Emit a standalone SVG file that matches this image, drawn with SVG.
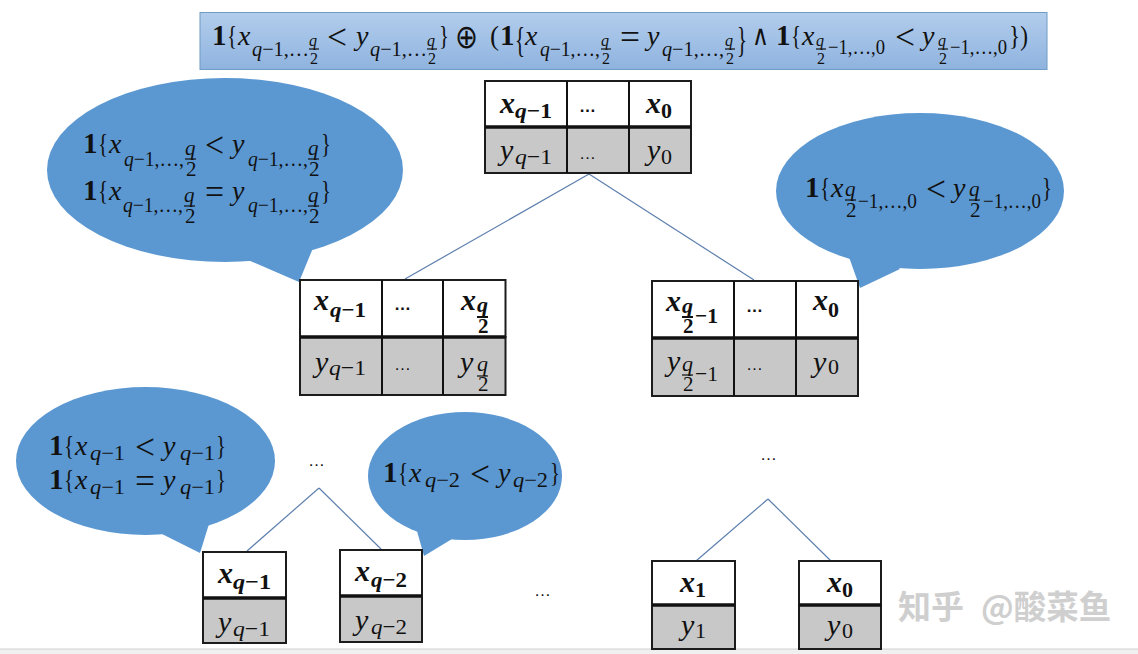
<svg xmlns="http://www.w3.org/2000/svg" width="1138" height="654" viewBox="0 0 1138 654">
<style>
text{font-family:"Liberation Serif","Times New Roman",serif;fill:#111}
.i{font-style:italic}
.m{font-size:28px}
.o{font-size:36px}
.s{font-size:21px}
.f{font-size:16px}
.b{font-weight:bold}
.bb{font-size:29px;font-weight:bold}
.t{font-size:30px}
.ts{font-size:22px}
.d{font-family:"Liberation Sans",Arial,sans-serif;font-size:17px}
.fl{stroke:#111;stroke-width:1.2}
.vl{stroke:#111;stroke-width:2}
.cell{fill:#fff;stroke:#1c1c1c;stroke-width:2}
.gcell{fill:#c8c8c8;stroke:#1c1c1c;stroke-width:2}
.div{stroke:#111;stroke-width:3.5}
.bub{fill:#5b98d2}
#connectors line{stroke:#5d7fae;stroke-width:1.2}
.wm{font-family:"Noto Sans CJK SC",sans-serif;font-size:33px;font-weight:bold;fill:#cfcfcf}
</style>
<defs><linearGradient id="bg" x1="0" y1="0" x2="0" y2="1"><stop offset="0" stop-color="#b2cdec"/><stop offset="1" stop-color="#8fb3df"/></linearGradient></defs>
<rect width="1138" height="654" fill="#fff"/>
<rect x="0" y="649" width="1138" height="5" fill="#f0f0f0"/>
<line x1="0" y1="649" x2="1138" y2="649" stroke="#d0d0d0"/>

<g id="connectors">
<line x1="589" y1="174" x2="405" y2="279"/>
<line x1="589" y1="174" x2="754" y2="280"/>
<line x1="319" y1="488" x2="247" y2="551"/>
<line x1="319" y1="488" x2="381" y2="549"/>
<line x1="768" y1="499" x2="696" y2="561"/>
<line x1="768" y1="499" x2="831" y2="561"/>
</g>

<g id="banner">
<rect x="200" y="12.500" width="847" height="57" fill="url(#bg)" stroke="#6f9cc4"/>
<line class="fl" x1="309" y1="49" x2="319" y2="49"/><line class="fl" x1="427" y1="49" x2="437" y2="49"/><line class="fl" x1="601" y1="49" x2="611" y2="49"/><line class="fl" x1="725" y1="49" x2="735" y2="49"/><line class="fl" x1="816" y1="49" x2="826" y2="49"/><line class="fl" x1="938" y1="49" x2="948" y2="49"/>
<text class="m"><tspan class="bb" x="212" y="45">1</tspan><tspan x="227" y="45" textLength="10" lengthAdjust="spacingAndGlyphs">{</tspan><tspan class="i" x="238" y="45">x</tspan><tspan class="s" x="252" y="56" textLength="57" lengthAdjust="spacingAndGlyphs"><tspan class="i">q</tspan>−1,…</tspan><tspan class="f i" x="309" y="46">q</tspan><tspan class="f" x="310" y="64">2</tspan><tspan class="o" x="327" y="49" textLength="20" lengthAdjust="spacingAndGlyphs">&lt;</tspan><tspan class="i" x="356" y="45">y</tspan><tspan class="s" x="370" y="56" textLength="57" lengthAdjust="spacingAndGlyphs"><tspan class="i">q</tspan>−1,…</tspan><tspan class="f i" x="427" y="46">q</tspan><tspan class="f" x="428" y="64">2</tspan><tspan x="439" y="45" textLength="10" lengthAdjust="spacingAndGlyphs">}</tspan><tspan x="455" y="48" style="font-family:'DejaVu Sans',sans-serif;font-size:33px" textLength="23" lengthAdjust="spacingAndGlyphs">⊕</tspan><tspan x="490" y="45" textLength="9" lengthAdjust="spacingAndGlyphs">(</tspan><tspan class="bb" x="500" y="45">1</tspan><tspan class="o" x="515" y="52" textLength="10" lengthAdjust="spacingAndGlyphs">{</tspan><tspan class="i" x="525" y="45">x</tspan><tspan class="s" x="540" y="56" textLength="60" lengthAdjust="spacingAndGlyphs"><tspan class="i">q</tspan>−1,…,</tspan><tspan class="f i" x="601" y="46">q</tspan><tspan class="f" x="602" y="64">2</tspan><tspan class="o" x="620" y="49" textLength="20" lengthAdjust="spacingAndGlyphs">=</tspan><tspan class="i" x="647" y="45">y</tspan><tspan class="s" x="662" y="56" textLength="62" lengthAdjust="spacingAndGlyphs"><tspan class="i">q</tspan>−1,…,</tspan><tspan class="f i" x="725" y="46">q</tspan><tspan class="f" x="726" y="64">2</tspan><tspan class="o" x="737" y="52" textLength="10" lengthAdjust="spacingAndGlyphs">}</tspan><tspan x="752" y="45" style="font-family:'DejaVu Serif',serif" textLength="17" lengthAdjust="spacingAndGlyphs">∧</tspan><tspan class="bb" x="776" y="45">1</tspan><tspan x="791" y="45" textLength="10" lengthAdjust="spacingAndGlyphs">{</tspan><tspan class="i" x="802" y="45">x</tspan><tspan class="f i" x="816" y="46">q</tspan><tspan class="f" x="817" y="64">2</tspan><tspan class="s" x="828" y="54" textLength="57" lengthAdjust="spacingAndGlyphs">−1,…,0</tspan><tspan class="o" x="895" y="49" textLength="20" lengthAdjust="spacingAndGlyphs">&lt;</tspan><tspan class="i" x="922" y="45">y</tspan><tspan class="f i" x="938" y="46">q</tspan><tspan class="f" x="939" y="64">2</tspan><tspan class="s" x="950" y="54" textLength="57" lengthAdjust="spacingAndGlyphs">−1,…,0</tspan><tspan x="1009" y="45" textLength="19" lengthAdjust="spacingAndGlyphs">})</tspan></text>
</g>

<g id="bubble-left">
<ellipse class="bub" cx="225" cy="170" rx="178" ry="92"/>
<polygon class="bub" points="248,260 299,282 313,248"/>
<line class="fl" x1="185" y1="159" x2="196" y2="159"/><line class="fl" x1="308" y1="159" x2="319" y2="159"/><line class="fl" x1="184" y1="206" x2="195" y2="206"/><line class="fl" x1="308" y1="206" x2="319" y2="206"/>
<text class="m"><tspan class="bb" x="83" y="153">1</tspan><tspan x="98" y="153" textLength="10" lengthAdjust="spacingAndGlyphs">{</tspan><tspan class="i" x="109" y="153">x</tspan><tspan class="s" x="124" y="166" textLength="60" lengthAdjust="spacingAndGlyphs"><tspan class="i">q</tspan>−1,…,</tspan><tspan class="s i" x="185" y="155">q</tspan><tspan class="s" x="186" y="176">2</tspan><tspan class="o" x="205" y="157" textLength="19" lengthAdjust="spacingAndGlyphs">&lt;</tspan><tspan class="i" x="232" y="153">y</tspan><tspan class="s" x="248" y="166" textLength="60" lengthAdjust="spacingAndGlyphs"><tspan class="i">q</tspan>−1,…,</tspan><tspan class="s i" x="308" y="155">q</tspan><tspan class="s" x="309" y="176">2</tspan><tspan x="321" y="153" textLength="10" lengthAdjust="spacingAndGlyphs">}</tspan></text>
<text class="m"><tspan class="bb" x="83" y="200">1</tspan><tspan x="98" y="200" textLength="10" lengthAdjust="spacingAndGlyphs">{</tspan><tspan class="i" x="109" y="200">x</tspan><tspan class="s" x="123" y="212" textLength="60" lengthAdjust="spacingAndGlyphs"><tspan class="i">q</tspan>−1,…,</tspan><tspan class="s i" x="184" y="202">q</tspan><tspan class="s" x="185" y="223">2</tspan><tspan class="o" x="205" y="204" textLength="19" lengthAdjust="spacingAndGlyphs">=</tspan><tspan class="i" x="232" y="200">y</tspan><tspan class="s" x="248" y="212" textLength="60" lengthAdjust="spacingAndGlyphs"><tspan class="i">q</tspan>−1,…,</tspan><tspan class="s i" x="308" y="202">q</tspan><tspan class="s" x="309" y="223">2</tspan><tspan x="321" y="200" textLength="10" lengthAdjust="spacingAndGlyphs">}</tspan></text>
</g>

<g id="bubble-right">
<ellipse class="bub" cx="920" cy="191" rx="144" ry="78"/>
<polygon class="bub" points="849,257 860,288 900,269 880,250"/>
<line class="fl" x1="845" y1="200" x2="856" y2="200"/><line class="fl" x1="969" y1="200" x2="980" y2="200"/>
<text class="m"><tspan class="bb" x="805" y="197">1</tspan><tspan x="820" y="197" textLength="10" lengthAdjust="spacingAndGlyphs">{</tspan><tspan class="i" x="831" y="197">x</tspan><tspan class="s i" x="845" y="196">q</tspan><tspan class="s" x="846" y="217">2</tspan><tspan class="s" x="858" y="208" textLength="59" lengthAdjust="spacingAndGlyphs">−1,…,0</tspan><tspan class="o" x="926" y="201" textLength="20" lengthAdjust="spacingAndGlyphs">&lt;</tspan><tspan class="i" x="953" y="197">y</tspan><tspan class="s i" x="969" y="196">q</tspan><tspan class="s" x="970" y="217">2</tspan><tspan class="s" x="983" y="208" textLength="58" lengthAdjust="spacingAndGlyphs">−1,…,0</tspan><tspan x="1042" y="197" textLength="10" lengthAdjust="spacingAndGlyphs">}</tspan></text>
</g>

<g id="bubble-low-left">
<ellipse class="bub" cx="145.500" cy="461" rx="129.500" ry="74"/>
<polygon class="bub" points="162,534 200,553 209,524 180,520"/>
<text class="m"><tspan class="bb" x="49" y="455">1</tspan><tspan x="64" y="455" textLength="10" lengthAdjust="spacingAndGlyphs">{</tspan><tspan class="i" x="75" y="455">x</tspan><tspan class="s" x="90" y="460" textLength="35" lengthAdjust="spacingAndGlyphs"><tspan class="i">q</tspan>−1</tspan><tspan class="o" x="135" y="459" textLength="20" lengthAdjust="spacingAndGlyphs">&lt;</tspan><tspan class="i" x="163" y="455">y</tspan><tspan class="s" x="180" y="460" textLength="35" lengthAdjust="spacingAndGlyphs"><tspan class="i">q</tspan>−1</tspan><tspan x="216" y="455" textLength="10" lengthAdjust="spacingAndGlyphs">}</tspan></text>
<text class="m"><tspan class="bb" x="49" y="489">1</tspan><tspan x="64" y="489" textLength="10" lengthAdjust="spacingAndGlyphs">{</tspan><tspan class="i" x="75" y="489">x</tspan><tspan class="s" x="90" y="494" textLength="35" lengthAdjust="spacingAndGlyphs"><tspan class="i">q</tspan>−1</tspan><tspan class="o" x="135" y="493" textLength="20" lengthAdjust="spacingAndGlyphs">=</tspan><tspan class="i" x="163" y="489">y</tspan><tspan class="s" x="180" y="494" textLength="35" lengthAdjust="spacingAndGlyphs"><tspan class="i">q</tspan>−1</tspan><tspan x="216" y="489" textLength="10" lengthAdjust="spacingAndGlyphs">}</tspan></text>
</g>

<g id="bubble-low-right">
<ellipse class="bub" cx="465" cy="476" rx="97" ry="64"/>
<polygon class="bub" points="417,531 424,556 452,539 435,525"/>
<text class="m"><tspan class="bb" x="383" y="482">1</tspan><tspan x="398" y="482" textLength="10" lengthAdjust="spacingAndGlyphs">{</tspan><tspan class="i" x="409" y="482">x</tspan><tspan class="s" x="425" y="487" textLength="35" lengthAdjust="spacingAndGlyphs"><tspan class="i">q</tspan>−2</tspan><tspan class="o" x="470" y="486" textLength="20" lengthAdjust="spacingAndGlyphs">&lt;</tspan><tspan class="i" x="498" y="482">y</tspan><tspan class="s" x="513" y="487" textLength="35" lengthAdjust="spacingAndGlyphs"><tspan class="i">q</tspan>−2</tspan><tspan x="550" y="482" textLength="10" lengthAdjust="spacingAndGlyphs">}</tspan></text>
</g>

<g id="table-root">
<rect class="cell" x="485" y="81" width="206" height="46"/>
<rect class="gcell" x="485" y="127" width="206" height="46"/>
<line class="vl" x1="567" y1="81" x2="567" y2="173"/>
<line class="vl" x1="629" y1="81" x2="629" y2="173"/>
<line class="div" x1="485" y1="127" x2="691" y2="127"/>
<text class="t b"><tspan class="i" x="500" y="113">x</tspan><tspan class="ts" x="515" y="118" textLength="37" lengthAdjust="spacingAndGlyphs"><tspan class="i">q</tspan>−1</tspan></text>
<text class="d b" x="579" y="112">…</text>
<text class="t b"><tspan class="i" x="646" y="113">x</tspan><tspan class="ts" x="661" y="118">0</tspan></text>
<text class="t"><tspan class="i" x="500" y="160">y</tspan><tspan class="ts" x="515" y="164" textLength="37" lengthAdjust="spacingAndGlyphs"><tspan class="i">q</tspan>−1</tspan></text>
<text class="d" x="579" y="159">…</text>
<text class="t"><tspan class="i" x="647" y="160">y</tspan><tspan class="ts" x="661" y="164">0</tspan></text>
</g>

<g id="table-left">
<rect class="cell" x="300" y="280" width="205.500" height="57"/>
<rect class="gcell" x="300" y="337" width="205.500" height="58"/>
<line class="vl" x1="382" y1="280" x2="382" y2="395"/>
<line class="vl" x1="443" y1="280" x2="443" y2="395"/>
<line class="div" x1="300" y1="337" x2="505" y2="337"/>
<line class="vl" x1="477" y1="317" x2="488" y2="317"/>
<line class="fl" x1="477" y1="376" x2="488" y2="376"/>
<text class="t b"><tspan class="i" x="314" y="310">x</tspan><tspan class="ts" x="330" y="317" textLength="36" lengthAdjust="spacingAndGlyphs"><tspan class="i">q</tspan>−1</tspan></text>
<text class="d b" x="394" y="310">…</text>
<text class="t b"><tspan class="i" x="461" y="310">x</tspan><tspan class="ts i" x="477" y="312">q</tspan><tspan class="s" x="478" y="333">2</tspan></text>
<text class="t"><tspan class="i" x="315" y="372">y</tspan><tspan class="ts" x="329" y="375" textLength="37" lengthAdjust="spacingAndGlyphs"><tspan class="i">q</tspan>−1</tspan></text>
<text class="d" x="394" y="370">…</text>
<text class="t"><tspan class="i" x="460" y="372">y</tspan><tspan class="ts i" x="477" y="371">q</tspan><tspan class="s" x="478" y="391">2</tspan></text>
</g>

<g id="table-right">
<rect class="cell" x="652" y="281" width="206" height="57"/>
<rect class="gcell" x="652" y="338" width="206" height="58"/>
<line class="vl" x1="734" y1="281" x2="734" y2="396"/>
<line class="vl" x1="796" y1="281" x2="796" y2="396"/>
<line class="div" x1="652" y1="338" x2="858" y2="338"/>
<line class="vl" x1="682" y1="317" x2="693" y2="317"/>
<line class="fl" x1="682" y1="375" x2="693" y2="375"/>
<text class="t b"><tspan class="i" x="666" y="311">x</tspan><tspan class="ts i" x="682" y="313">q</tspan><tspan class="s" x="683" y="333">2</tspan><tspan class="ts" x="695" y="323" textLength="23" lengthAdjust="spacingAndGlyphs">−1</tspan></text>
<text class="d b" x="746" y="312">…</text>
<text class="t b"><tspan class="i" x="813" y="310">x</tspan><tspan class="ts" x="828" y="317">0</tspan></text>
<text class="t"><tspan class="i" x="667" y="371">y</tspan><tspan class="ts i" x="682" y="371">q</tspan><tspan class="s" x="683" y="391">2</tspan><tspan class="ts" x="695" y="381" textLength="23" lengthAdjust="spacingAndGlyphs">−1</tspan></text>
<text class="d" x="746" y="370">…</text>
<text class="t"><tspan class="i" x="813" y="372">y</tspan><tspan class="ts" x="828" y="374">0</tspan></text>
</g>

<g id="leaf-q1">
<rect class="cell" x="203" y="552" width="83" height="46"/>
<rect class="gcell" x="203" y="598" width="83" height="45"/>
<line class="div" x1="203" y1="598" x2="286" y2="598"/>
<text class="t b"><tspan class="i" x="218" y="583">x</tspan><tspan class="ts" x="233" y="589" textLength="38" lengthAdjust="spacingAndGlyphs"><tspan class="i">q</tspan>−1</tspan></text>
<text class="t"><tspan class="i" x="218" y="632">y</tspan><tspan class="ts" x="233" y="636" textLength="37" lengthAdjust="spacingAndGlyphs"><tspan class="i">q</tspan>−1</tspan></text>
</g>

<g id="leaf-q2">
<rect class="cell" x="340" y="550" width="82" height="46"/>
<rect class="gcell" x="340" y="596" width="82" height="46"/>
<line class="div" x1="340" y1="596" x2="422" y2="596"/>
<text class="t b"><tspan class="i" x="355" y="581">x</tspan><tspan class="ts" x="371" y="587" textLength="36" lengthAdjust="spacingAndGlyphs"><tspan class="i">q</tspan>−2</tspan></text>
<text class="t"><tspan class="i" x="355" y="630">y</tspan><tspan class="ts" x="371" y="634" textLength="36" lengthAdjust="spacingAndGlyphs"><tspan class="i">q</tspan>−2</tspan></text>
</g>

<g id="leaf-1">
<rect class="cell" x="652" y="561" width="83" height="44"/>
<rect class="gcell" x="652" y="605" width="83" height="44"/>
<line class="div" x1="652" y1="605" x2="735" y2="605"/>
<text class="t b"><tspan class="i" x="680" y="592">x</tspan><tspan class="ts" x="695" y="597">1</tspan></text>
<text class="t"><tspan class="i" x="681" y="635">y</tspan><tspan class="ts" x="695" y="638">1</tspan></text>
</g>

<g id="leaf-0">
<rect class="cell" x="799" y="561" width="82" height="44"/>
<rect class="gcell" x="799" y="605" width="82" height="44"/>
<line class="div" x1="799" y1="605" x2="881" y2="605"/>
<text class="t b"><tspan class="i" x="827" y="592">x</tspan><tspan class="ts" x="842" y="597">0</tspan></text>
<text class="t"><tspan class="i" x="827" y="635">y</tspan><tspan class="ts" x="842" y="638">0</tspan></text>
</g>

<g id="dots">
<text class="d" x="308" y="466">…</text>
<text class="d" x="760" y="460">…</text>
<text class="d" x="534" y="596">…</text>
</g>

<g id="watermark">
<text class="wm" x="898" y="619">知乎</text>
<text class="wm" x="981" y="619" style="font-size:32.500px">@酸菜鱼</text>
</g>
</svg>
